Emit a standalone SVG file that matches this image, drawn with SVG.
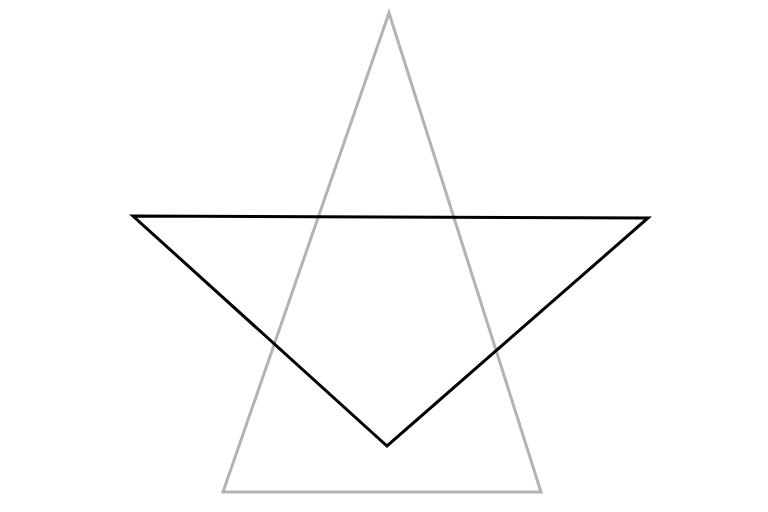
<svg xmlns="http://www.w3.org/2000/svg" width="768" height="512" viewBox="0 0 768 512">
<style>
.tri{fill:none;stroke-linejoin:miter;stroke-width:3}
.gray{stroke:#b3b3b3}
.black{stroke:#000}
</style>
<rect width="768" height="512" fill="#fff"/>
<g id="gray-triangle"><polygon class="tri gray" points="389,13 541,492 223,492"/></g>
<g id="black-triangle"><polygon class="tri black" points="133,216 648,218 387,446"/></g>
</svg>
